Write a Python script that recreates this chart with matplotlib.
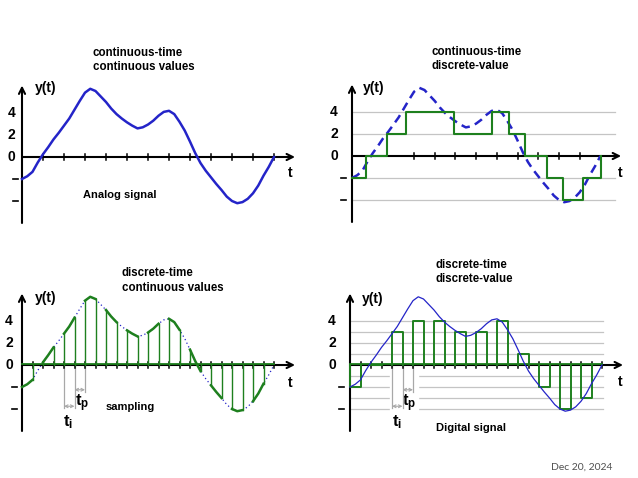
import numpy as np
import matplotlib
matplotlib.use("Agg")
import matplotlib.pyplot as plt

plt.rcParams['font.family'] = ['Liberation Sans', 'DejaVu Sans']
plt.rcParams['mathtext.fontset'] = 'custom'
plt.rcParams['mathtext.bf'] = 'Liberation Sans:bold'
plt.rcParams['mathtext.rm'] = 'Liberation Sans:bold'

# Señal analógica (t en divisiones, y en unidades)
t_vals = [0, 0.25, 0.5, 0.75, 1.0, 1.25, 1.5, 1.75, 2.0, 2.25, 2.5, 2.75,
          3.0, 3.25, 3.5, 3.75, 4.0, 4.25, 4.5, 4.75, 5.0, 5.25, 5.5, 5.75,
          6.0, 6.25, 6.5, 6.75, 7.0, 7.25, 7.5, 7.75, 8.0, 8.25, 8.5, 8.75,
          9.0, 9.25, 9.5, 9.75, 10.0, 10.25, 10.5, 10.75, 11.0, 11.25, 11.5,
          11.75, 12.0]
y_vals = [-2.0, -1.75, -1.35, -0.5, 0.25, 0.9, 1.6, 2.2, 2.85, 3.5, 4.3, 5.1,
          5.85, 6.2, 6.0, 5.5, 5.0, 4.4, 3.9, 3.5, 3.15, 2.85, 2.6, 2.7,
          2.95, 3.3, 3.75, 4.1, 4.2, 3.9, 3.2, 2.4, 1.4, 0.35, -0.55, -1.25,
          -1.85, -2.45, -3.0, -3.6, -4.0, -4.2, -4.1, -3.8, -3.3, -2.6, -1.7,
          -0.9, 0.0]

# Escalera (tiempo continuo, valores discretos)
step_edges = [0, 0.68, 1.69, 2.63, 4.92, 6.77, 7.58, 8.34, 9.44, 10.21, 11.18, 12.02]
step_levels = [-2, 0, 2, 4, 2, 4, 2, 0, -2, -4, -2]

# Señal digital: un valor por muestra
digital_vals = [-2, 0, 3, 4, 4, 3, 3, 4, 1, -2, -4, -3]
sample_width = 0.5

y_labels = ['4', '2', '0']
y_label_vals = [4, 2, 0]
dash_vals = [-2, -4]

t = np.array(t_vals)
y = np.array(y_vals)

W, H = 638, 478
fig = plt.figure(figsize=(W / 100, H / 100), dpi=100)
fig.patch.set_facecolor('white')

XLIM = (-1.5, 14)
YLIM = (-7.5, 10.5)
BLUE = '#2424c8'
GREEN = '#1e801e'
GRAY = '#c4c4c4'


def panel(ox, oy, sx, sy):
    # ejes colocados para que (0,0) caiga en el pixel (ox, oy)
    left = ox + XLIM[0] * sx
    right = ox + XLIM[1] * sx
    top = oy - YLIM[1] * sy
    bottom = oy - YLIM[0] * sy
    ax = fig.add_axes([left / W, 1 - bottom / H, (right - left) / W, (bottom - top) / H])
    ax.set_xlim(*XLIM)
    ax.set_ylim(*YLIM)
    ax.axis('off')
    return ax


def ejes(ax, ticks, label_x, dash_x):
    arrow = dict(arrowstyle='->', lw=1.5, color='black', shrinkA=0, shrinkB=0,
                 mutation_scale=11)
    ax.annotate('', xy=(0, 6.5), xytext=(0, -6.0), arrowprops=arrow, zorder=5)
    ax.annotate('', xy=(13, 0), xytext=(0, 0), arrowprops=arrow, zorder=5)
    for tk in ticks:
        ax.plot([tk, tk], [-0.3, 0.3], color='black', lw=1.1, zorder=5)
    for lab, v in zip(y_labels, y_label_vals):
        ax.text(label_x, v, lab, ha='center', va='center', fontsize=10,
                fontweight='bold')
    for v in dash_vals:
        ax.plot([dash_x - 0.12, dash_x + 0.1], [v, v], color='black', lw=1.2)


def titulo(ax, x, y1, y2, l1, l2):
    ax.text(x, y1, l1, ha='left', va='center', fontsize=8.3, fontweight='bold')
    ax.text(x, y2, l2, ha='left', va='center', fontsize=8.3, fontweight='bold')


def etiquetas(ax, yt_x, yt_y, t_x, t_y):
    ax.text(yt_x, yt_y, 'y(t)', ha='left', va='center', fontsize=10, fontweight='bold')
    ax.text(t_x, t_y, 't', ha='center', va='center', fontsize=10, fontweight='bold')


def anotacion_t(ax, ti_pos, tp_pos):
    g = '#a8a8a8'
    ax.plot([2, 2], [0, -3.9], color=g, lw=0.9, zorder=4)
    ax.plot([2.5, 2.5], [0, -3.9], color=g, lw=0.9, zorder=4)
    ax.plot([3, 3], [0, -2.45], color=g, lw=0.9, zorder=4)
    a = dict(arrowstyle='<->', lw=0.8, color=g, shrinkA=0, shrinkB=0, mutation_scale=5)
    ax.annotate('', xy=(2, -3.75), xytext=(2.5, -3.75), arrowprops=a, zorder=4)
    ax.annotate('', xy=(2.5, -2.25), xytext=(3, -2.25), arrowprops=a, zorder=4)
    ax.text(ti_pos[0], ti_pos[1], r'$\mathbf{t_i}$', ha='center', va='center', fontsize=12)
    ax.text(tp_pos[0], tp_pos[1], r'$\mathbf{t_p}$', ha='center', va='center', fontsize=12)


# Panel 1: señal analógica
ax1 = panel(22, 157, 21, 11)
ax1.plot(t, y, color=BLUE, lw=1.8, zorder=6)
ejes(ax1, range(1, 13), -0.5, -0.3)
titulo(ax1, 3.38, 9.45, 8.18, 'continuous-time', 'continuous values')
etiquetas(ax1, 0.6, 6.27, 12.76, -1.45)
ax1.text(2.9, -3.45, 'Analog signal', ha='left', va='center', fontsize=8, fontweight='bold')

# Panel 2: tiempo continuo, valores discretos
ax2 = panel(352, 156, 20.7, 11)
for v in [4, 2, -2, -4]:
    ax2.plot([0, 12.7], [v, v], color=GRAY, lw=0.9, zorder=1)
ejes(ax2, range(3, 12), -0.87, -0.4)
ax2.plot(t, y, color=BLUE, lw=1.8, dashes=(3.5, 2.2), zorder=6)
ax2.step(step_edges, step_levels + [0], where='post', color=GREEN, lw=1.5, zorder=7)
titulo(ax2, 3.82, 9.45, 8.18, 'continuous-time', 'discrete-value')
etiquetas(ax2, 0.53, 6.18, 12.95, -1.55)

# Panel 3: tiempo discreto, valores continuos (muestreo)
ax3 = panel(22, 365, 21, 11)
ejes(ax3, np.arange(0.5, 12.5, 0.5), -0.62, -0.35)
ax3.plot(t, y, color=BLUE, lw=0.9, linestyle=(0, (1, 2.2)), zorder=3)
ax3.plot([0, 12], [0.12, 0.12], color=GREEN, lw=1.3, zorder=6)
for k in range(12):
    m = (t >= k) & (t <= k + sample_width)
    ax3.plot(t[m], y[m], color=GREEN, lw=1.8, zorder=6)
    for tk in [k, k + sample_width]:
        if tk > 0:
            ax3.plot([tk, tk], [0, y[t == tk][0]], color=GREEN, lw=1.0, zorder=6)
anotacion_t(ax3, (2.2, -5.2), (2.86, -3.45))
titulo(ax3, 4.76, 8.36, 7.0, 'discrete-time', 'continuous values')
etiquetas(ax3, 0.62, 6.1, 12.76, -1.64)
ax3.text(4.0, -3.8, 'sampling', ha='left', va='center', fontsize=8, fontweight='bold')

# Panel 4: señal digital
ax4 = panel(350, 365, 21, 11)
for v in [4, 3, 2, 1, -1, -2, -3, -4]:
    ax4.plot([0, 12.05], [v, v], color=GRAY, lw=0.9, zorder=1)
ax4.add_patch(plt.Rectangle((1.9, -4.4), 1.35, 3.8, color='white', zorder=2))
ejes(ax4, np.arange(0.5, 12.5, 0.5), -0.86, -0.4)
ax4.plot([0, 12], [0.12, 0.12], color=GREEN, lw=1.3, zorder=6)
for k, v in enumerate(digital_vals):
    ax4.plot([k, k, k + sample_width, k + sample_width], [0, v, v, 0],
             color=GREEN, lw=1.4, zorder=6)
ax4.plot(t, y, color=BLUE, lw=0.9, zorder=7)
anotacion_t(ax4, (2.24, -5.2), (2.8, -3.45))
titulo(ax4, 4.05, 9.1, 7.8, 'discrete-time', 'discrete-value')
etiquetas(ax4, 0.57, 6.0, 12.86, -1.55)
ax4.text(4.1, -5.7, 'Digital signal', ha='left', va='center', fontsize=8, fontweight='bold')

fig.text(582 / W, 1 - 467 / H, 'Dec 20, 2024', ha='center', va='center',
         fontsize=7.5, color='#505050', family=['Lato', 'DejaVu Sans'])

fig.savefig('out.png', dpi=100)
